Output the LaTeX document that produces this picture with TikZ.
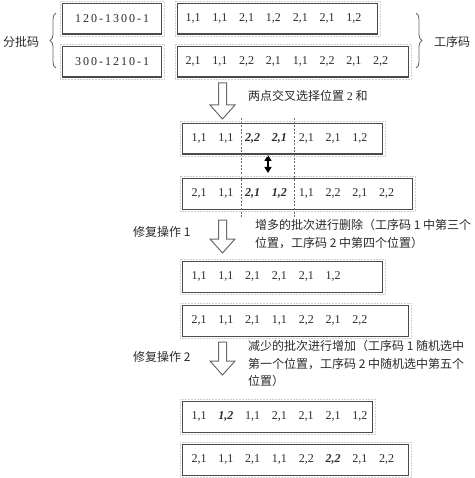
\documentclass[tikz,border=0pt]{standalone}
\usepackage{fontspec}
\setmainfont{Liberation Serif}
\newfontfamily\cjk{Noto Sans CJK SC}
\usetikzlibrary{decorations.pathreplacing,arrows.meta}
\definecolor{boxc}{HTML}{4A4A4A}
\definecolor{txt}{HTML}{2A2A2A}
\definecolor{faint}{HTML}{CFCFCF}
\definecolor{arrc}{HTML}{6A6A6A}
\newcommand\cl[1]{\makebox[26.8pt][l]{#1}}
\newcommand\bi[1]{\textbf{\textit{#1}}}
\newcommand\harrow[3]{%
  \draw[hollowarrow] (#1-4,#2) -- (#1+4,#2) -- (#1+4,#3-14) -- (#1+12.5,#3-14)
    -- (#1,#3) -- (#1-12.5,#3-14) -- (#1-4,#3-14) -- cycle;}
\begin{document}
\begin{tikzpicture}[x=1pt,y=-1pt,
  font=\fontsize{12}{14}\selectfont, text=txt,
  box/.style={draw=boxc, line width=1.1pt, minimum height=30.5pt, inner ysep=0pt,
    inner xsep=9pt, anchor=north west, align=left},
  cjktxt/.style={font=\cjk\fontsize{12}{17.5}\selectfont, inner sep=0pt, text=txt},
  hollowarrow/.style={draw=arrc, line width=1pt, fill=white, line join=miter},
  brc/.style={draw=arrc, line width=0.9pt, decorate, decoration={brace, amplitude=6pt}},
  cut/.style={draw=arrc, line width=0.8pt, dash pattern=on 2pt off 1.6pt},
  dbl/.style={draw=black, line width=1.3pt, {Triangle[width=7pt,length=6pt]}-{Triangle[width=7pt,length=6pt]}},
  faintbox/.style={draw=faint, line width=0.5pt, densely dotted}]
\useasboundingbox (0,0) rectangle (474,478);

% top rows
\node[box, inner xsep=8pt, text width=83pt, align=center] (b1) at (62,3) {1\,2\,0\,-\,1\,3\,0\,0\,-\,1};
\node[box, inner xsep=8pt, text width=184pt] (b2) at (177,3)
  {\cl{1,1}\cl{1,1}\cl{2,1}\cl{1,2}\cl{2,1}\cl{2,1}1,2};
\node[box, inner xsep=8pt, text width=83pt, align=center] (b3) at (62,46) {3\,0\,0\,-\,1\,2\,1\,0\,-\,1};
\node[box, inner xsep=8pt, text width=215pt] (b4) at (177,46)
  {\cl{2,1}\cl{1,1}\cl{2,2}\cl{2,1}\cl{1,1}\cl{2,2}\cl{2,1}2,2};

% braces and labels
\coordinate (lb1) at (56,68); \coordinate (lb2) at (56,13);
\coordinate (rb1) at (416,13); \coordinate (rb2) at (416,68);
\draw[brc] (lb1) -- (lb2);
\draw[brc] (rb1) -- (rb2);
\node[cjktxt] (lab1) at (21,42) {分批码};
\node[cjktxt] (lab2) at (452,42) {工序码};

% crossover
\harrow{222.5}{83}{119}
\node[cjktxt, anchor=west] (t1) at (248,96) {两点交叉选择位置 {\rmfamily 2} 和};
\node[box, text width=182pt] (r3) at (182,123)
  {\cl{1,1}\cl{1,1}\cl{\bi{2,2}}\cl{\bi{2,1}}\cl{2,1}\cl{2,1}1,2};
\node[box, text width=212pt] (r4) at (182,178)
  {\cl{2,1}\cl{1,1}\cl{\bi{2,1}}\cl{\bi{1,2}}\cl{1,1}\cl{2,2}\cl{2,1}2,2};
\coordinate (c1t) at (241,118); \coordinate (c1b) at (241,217);
\coordinate (c2t) at (294,118); \coordinate (c2b) at (294,217);
\draw[cut] (c1t) -- (c1b);
\draw[cut] (c2t) -- (c2b);
\coordinate (da) at (268,155); \coordinate (db) at (268,173);
\draw[dbl] (da) -- (db);

% repair 1
\harrow{222.5}{220}{253}
\node[cjktxt, anchor=west] (op1) at (133,232) {修复操作 1};
\node[cjktxt, anchor=west, align=left] (t2) at (255,234)
  {增多的批次进行删除（工序码 1 中第三个\\位置，工序码 2 中第四个位置）};
\node[box, text width=182pt] (r5) at (182,261)
  {\cl{1,1}\cl{1,1}\cl{2,1}\cl{2,1}\cl{2,1}1,2};
\node[box, text width=208pt] (r6) at (182,305)
  {\cl{2,1}\cl{1,1}\cl{2,1}\cl{1,1}\cl{2,2}\cl{2,1}2,2};

% repair 2
\harrow{222.5}{342}{375}
\node[cjktxt, anchor=west] (op2) at (133,357) {修复操作 2};
\node[cjktxt, anchor=west, align=left] (t3) at (248,363.5)
  {减少的批次进行增加（工序码 1 随机选中\\第一个位置，工序码 2 中随机选中第五个\\位置）};
\node[box, text width=172pt] (r7) at (182,401)
  {\cl{1,1}\cl{\bi{1,2}}\cl{1,1}\cl{2,1}\cl{2,1}\cl{2,1}1,2};
\node[box, text width=208pt] (r8) at (182,444)
  {\cl{2,1}\cl{1,1}\cl{2,1}\cl{1,1}\cl{2,2}\cl{\bi{2,2}}\cl{2,1}2,2};

% faint dotted outlines
\foreach \n in {b1,b2,b3,b4,r3,r4,r5,r6,r7,r8}
  \draw[faintbox] ([shift={(-2pt,2pt)}]\n.north west) rectangle ([shift={(2pt,-2pt)}]\n.south east);
\end{tikzpicture}
\end{document}
